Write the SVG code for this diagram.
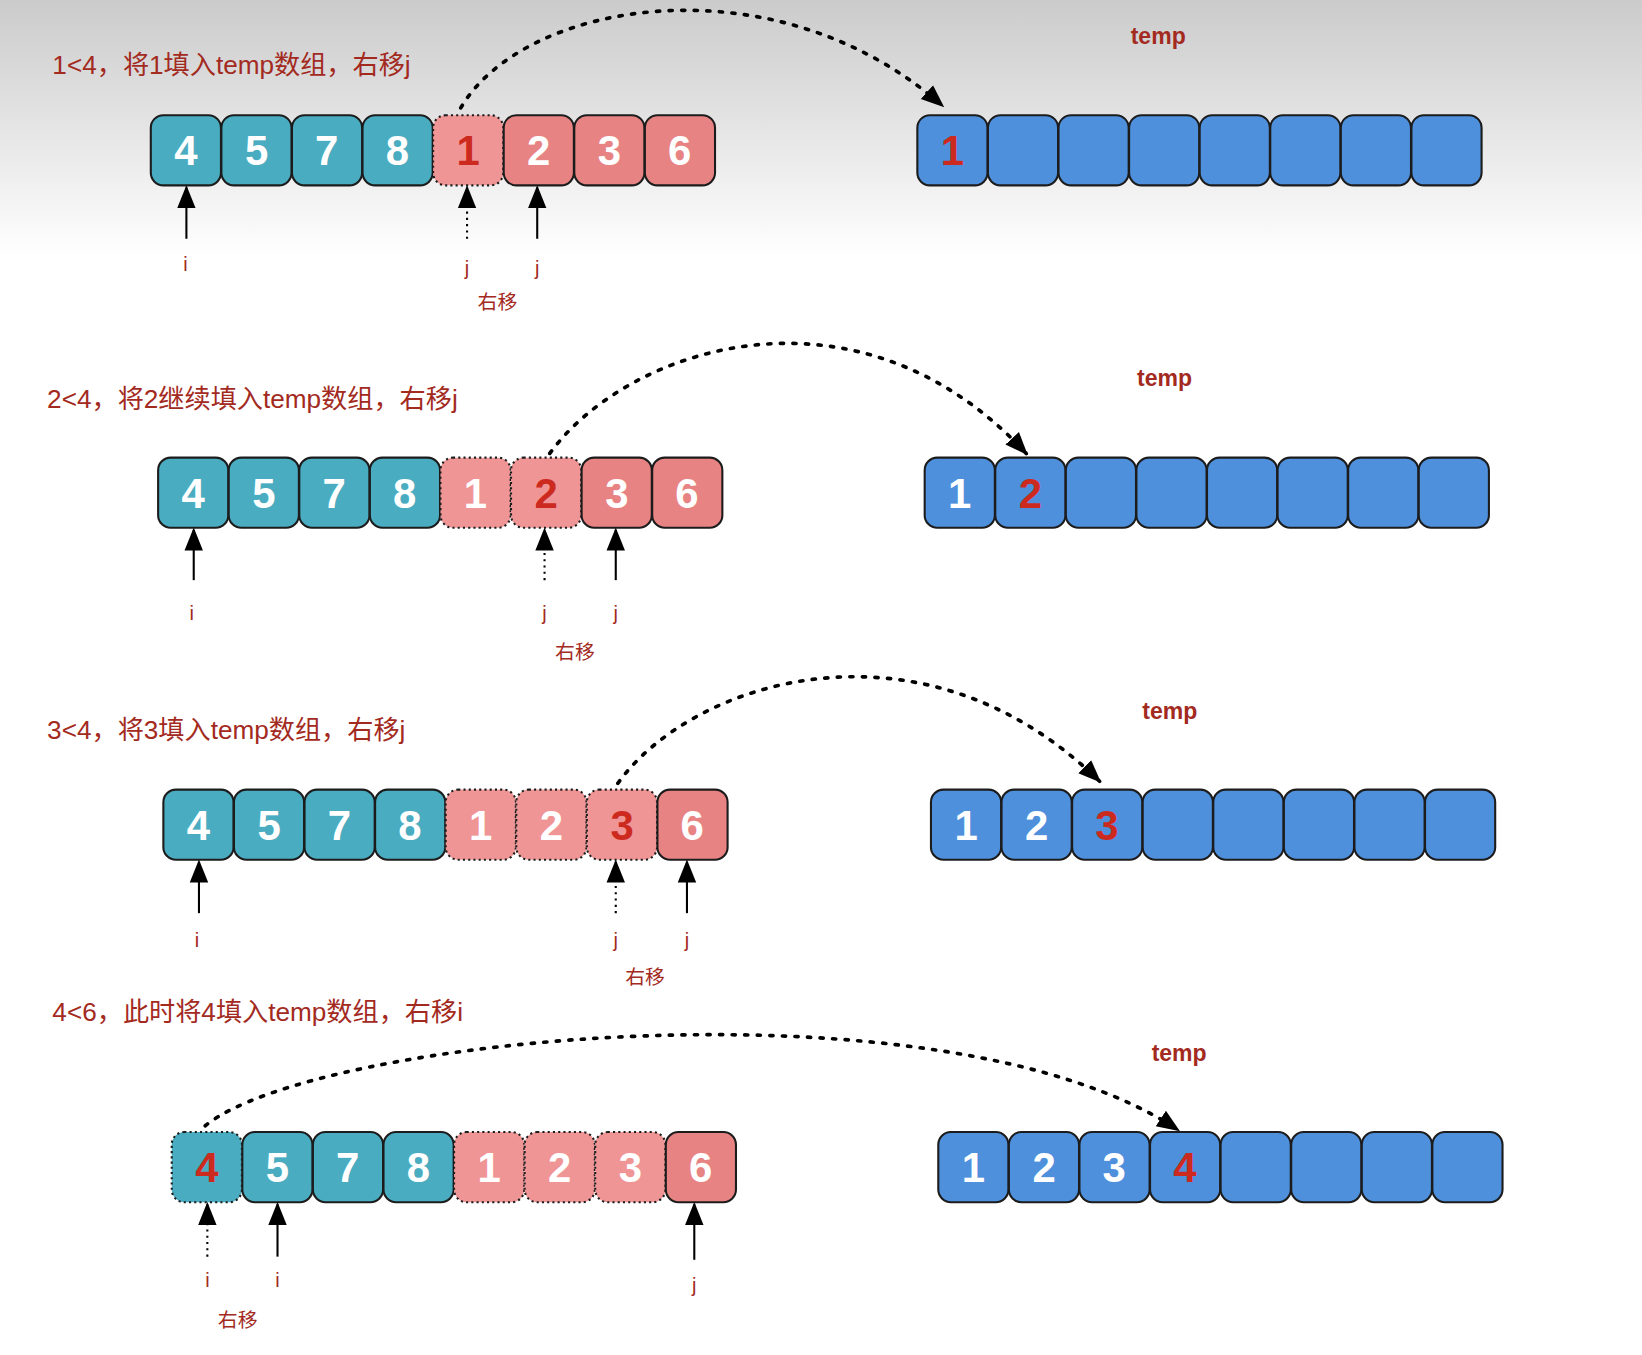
<svg xmlns="http://www.w3.org/2000/svg" width="1642" height="1355" viewBox="0 0 1642 1355">
<defs>
<linearGradient id="bg" x1="0" y1="0" x2="0" y2="1">
<stop offset="0" stop-color="#cbcbcb"/><stop offset="0.19" stop-color="#ffffff"/><stop offset="1" stop-color="#ffffff"/>
</linearGradient>
<marker id="ah" viewBox="0 0 10 10" refX="9" refY="5" markerWidth="7" markerHeight="7" orient="auto" markerUnits="userSpaceOnUse">
<path d="M0,0 L10,5 L0,10 z" fill="#000"/></marker>
<marker id="ah2" viewBox="0 0 10 10" refX="9" refY="5" markerWidth="22" markerHeight="22" orient="auto" markerUnits="userSpaceOnUse">
<path d="M0,1 L10,5 L0,9 z" fill="#000"/></marker>
</defs>
<style>
.c{stroke:#1c1c1c;stroke-width:2}
.t{fill:#4aacc0}.p{fill:#e88383}.pl{fill:#f09595}.b{fill:#4f90dd}
.d{stroke-dasharray:2 3}
.n{font-family:"Liberation Sans",Arial,sans-serif;font-weight:bold;font-size:40px;text-anchor:middle;fill:#fff}
.r{fill:#cc2a1e}
.lab{font-family:"Liberation Sans","Noto Sans CJK SC",sans-serif;font-size:25px;fill:#a32a1e}
.sm{font-family:"Liberation Sans","Noto Sans CJK SC",sans-serif;font-size:19px;fill:#a32a1e;text-anchor:middle}
.tp{font-family:"Liberation Sans",sans-serif;font-weight:bold;font-size:22px;fill:#a32a1e;text-anchor:middle}
.ar{stroke:#000;stroke-width:2;fill:none;marker-end:url(#ah2)}
.ard{stroke:#000;stroke-width:2;fill:none;stroke-dasharray:2 4;marker-end:url(#ah2)}
.cv{stroke:#000;stroke-width:3.5;fill:none;stroke-dasharray:3 9;stroke-linecap:round;marker-end:url(#ah2)}
</style>
<rect width="1642" height="1355" fill="url(#bg)"/>
<g transform="scale(1.0472)">
<!-- Row 1 -->
<g id="row1">
<text class="lab" x="50" y="71">1&lt;4，将1填入temp数组，右移j</text>
<g transform="translate(144,110)">
<rect class="c t" x="0" y="0" width="67" height="67" rx="12"/><text class="n" x="33.5" y="48">4</text>
<rect class="c t" x="67.4" y="0" width="67" height="67" rx="12"/><text class="n" x="101" y="48">5</text>
<rect class="c t" x="134.8" y="0" width="67" height="67" rx="12"/><text class="n" x="168" y="48">7</text>
<rect class="c t" x="202.2" y="0" width="67" height="67" rx="12"/><text class="n" x="235.5" y="48">8</text>
<rect class="c pl d" x="269.6" y="0" width="67" height="67" rx="12"/><text class="n r" x="303" y="48">1</text>
<rect class="c p" x="337" y="0" width="67" height="67" rx="12"/><text class="n" x="370.5" y="48">2</text>
<rect class="c p" x="404.4" y="0" width="67" height="67" rx="12"/><text class="n" x="438" y="48">3</text>
<rect class="c p" x="471.8" y="0" width="67" height="67" rx="12"/><text class="n" x="505" y="48">6</text>
</g>
<text class="tp" x="1106" y="42">temp</text>
<g transform="translate(876,110)">
<rect class="c b" x="0" y="0" width="67" height="67" rx="12"/><text class="n r" x="33.5" y="48">1</text>
<rect class="c b" x="67.4" y="0" width="67" height="67" rx="12"/>
<rect class="c b" x="134.8" y="0" width="67" height="67" rx="12"/>
<rect class="c b" x="202.2" y="0" width="67" height="67" rx="12"/>
<rect class="c b" x="269.6" y="0" width="67" height="67" rx="12"/>
<rect class="c b" x="337" y="0" width="67" height="67" rx="12"/>
<rect class="c b" x="404.4" y="0" width="67" height="67" rx="12"/>
<rect class="c b" x="471.8" y="0" width="67" height="67" rx="12"/>
</g>
<text class="sm" x="177" y="259">i</text><text class="sm" x="446" y="263">j</text><text class="sm" x="513" y="263">j</text>
<text class="sm" x="475" y="295">右移</text>
</g>
<!-- Row 2 -->
<g id="row2">
<text class="lab" x="45" y="390">2&lt;4，将2继续填入temp数组，右移j</text>
<g transform="translate(151,437)">
<rect class="c t" x="0" y="0" width="67" height="67" rx="12"/><text class="n" x="33.5" y="48">4</text>
<rect class="c t" x="67.4" y="0" width="67" height="67" rx="12"/><text class="n" x="101" y="48">5</text>
<rect class="c t" x="134.8" y="0" width="67" height="67" rx="12"/><text class="n" x="168" y="48">7</text>
<rect class="c t" x="202.2" y="0" width="67" height="67" rx="12"/><text class="n" x="235.5" y="48">8</text>
<rect class="c pl d" x="269.6" y="0" width="67" height="67" rx="12"/><text class="n" x="303" y="48">1</text>
<rect class="c pl d" x="337" y="0" width="67" height="67" rx="12"/><text class="n r" x="370.5" y="48">2</text>
<rect class="c p" x="404.4" y="0" width="67" height="67" rx="12"/><text class="n" x="438" y="48">3</text>
<rect class="c p" x="471.8" y="0" width="67" height="67" rx="12"/><text class="n" x="505" y="48">6</text>
</g>
<text class="tp" x="1112" y="369">temp</text>
<g transform="translate(883,437)">
<rect class="c b" x="0" y="0" width="67" height="67" rx="12"/><text class="n" x="33.5" y="48">1</text>
<rect class="c b" x="67.4" y="0" width="67" height="67" rx="12"/><text class="n r" x="101" y="48">2</text>
<rect class="c b" x="134.8" y="0" width="67" height="67" rx="12"/>
<rect class="c b" x="202.2" y="0" width="67" height="67" rx="12"/>
<rect class="c b" x="269.6" y="0" width="67" height="67" rx="12"/>
<rect class="c b" x="337" y="0" width="67" height="67" rx="12"/>
<rect class="c b" x="404.4" y="0" width="67" height="67" rx="12"/>
<rect class="c b" x="471.8" y="0" width="67" height="67" rx="12"/>
</g>
<text class="sm" x="183" y="592">i</text><text class="sm" x="520" y="592">j</text><text class="sm" x="588" y="592">j</text>
<text class="sm" x="549" y="629">右移</text>
</g>
<!-- Row 3 -->
<g id="row3">
<text class="lab" x="45" y="706">3&lt;4，将3填入temp数组，右移j</text>
<g transform="translate(156,754)">
<rect class="c t" x="0" y="0" width="67" height="67" rx="12"/><text class="n" x="33.5" y="48">4</text>
<rect class="c t" x="67.4" y="0" width="67" height="67" rx="12"/><text class="n" x="101" y="48">5</text>
<rect class="c t" x="134.8" y="0" width="67" height="67" rx="12"/><text class="n" x="168" y="48">7</text>
<rect class="c t" x="202.2" y="0" width="67" height="67" rx="12"/><text class="n" x="235.5" y="48">8</text>
<rect class="c pl d" x="269.6" y="0" width="67" height="67" rx="12"/><text class="n" x="303" y="48">1</text>
<rect class="c pl d" x="337" y="0" width="67" height="67" rx="12"/><text class="n" x="370.5" y="48">2</text>
<rect class="c pl d" x="404.4" y="0" width="67" height="67" rx="12"/><text class="n r" x="438" y="48">3</text>
<rect class="c p" x="471.8" y="0" width="67" height="67" rx="12"/><text class="n" x="505" y="48">6</text>
</g>
<text class="tp" x="1117" y="687">temp</text>
<g transform="translate(889,754)">
<rect class="c b" x="0" y="0" width="67" height="67" rx="12"/><text class="n" x="33.5" y="48">1</text>
<rect class="c b" x="67.4" y="0" width="67" height="67" rx="12"/><text class="n" x="101" y="48">2</text>
<rect class="c b" x="134.8" y="0" width="67" height="67" rx="12"/><text class="n r" x="168" y="48">3</text>
<rect class="c b" x="202.2" y="0" width="67" height="67" rx="12"/>
<rect class="c b" x="269.6" y="0" width="67" height="67" rx="12"/>
<rect class="c b" x="337" y="0" width="67" height="67" rx="12"/>
<rect class="c b" x="404.4" y="0" width="67" height="67" rx="12"/>
<rect class="c b" x="471.8" y="0" width="67" height="67" rx="12"/>
</g>
<text class="sm" x="188" y="904">i</text><text class="sm" x="588" y="904">j</text><text class="sm" x="656" y="904">j</text>
<text class="sm" x="616" y="940">右移</text>
</g>
<!-- Row 4 -->
<g id="row4">
<text class="lab" x="50" y="975">4&lt;6，此时将4填入temp数组，右移i</text>
<g transform="translate(164,1081)">
<rect class="c t d" x="0" y="0" width="67" height="67" rx="12"/><text class="n r" x="33.5" y="48">4</text>
<rect class="c t" x="67.4" y="0" width="67" height="67" rx="12"/><text class="n" x="101" y="48">5</text>
<rect class="c t" x="134.8" y="0" width="67" height="67" rx="12"/><text class="n" x="168" y="48">7</text>
<rect class="c t" x="202.2" y="0" width="67" height="67" rx="12"/><text class="n" x="235.5" y="48">8</text>
<rect class="c pl d" x="269.6" y="0" width="67" height="67" rx="12"/><text class="n" x="303" y="48">1</text>
<rect class="c pl d" x="337" y="0" width="67" height="67" rx="12"/><text class="n" x="370.5" y="48">2</text>
<rect class="c pl d" x="404.4" y="0" width="67" height="67" rx="12"/><text class="n" x="438" y="48">3</text>
<rect class="c p" x="471.8" y="0" width="67" height="67" rx="12"/><text class="n" x="505" y="48">6</text>
</g>
<text class="tp" x="1126" y="1013">temp</text>
<g transform="translate(896,1081)">
<rect class="c b" x="0" y="0" width="67" height="67" rx="12"/><text class="n" x="33.5" y="48">1</text>
<rect class="c b" x="67.4" y="0" width="67" height="67" rx="12"/><text class="n" x="101" y="48">2</text>
<rect class="c b" x="134.8" y="0" width="67" height="67" rx="12"/><text class="n" x="168" y="48">3</text>
<rect class="c b" x="202.2" y="0" width="67" height="67" rx="12"/><text class="n r" x="235.5" y="48">4</text>
<rect class="c b" x="269.6" y="0" width="67" height="67" rx="12"/>
<rect class="c b" x="337" y="0" width="67" height="67" rx="12"/>
<rect class="c b" x="404.4" y="0" width="67" height="67" rx="12"/>
<rect class="c b" x="471.8" y="0" width="67" height="67" rx="12"/>
</g>
<text class="sm" x="198" y="1229">i</text><text class="sm" x="265" y="1229">i</text><text class="sm" x="663" y="1234">j</text>
<text class="sm" x="227" y="1267">右移</text>
</g>
<!-- Connectors -->
<g id="connectors">
<path class="ar" d="M178,228 V179"/><path class="ard" d="M446,228 V179"/><path class="ar" d="M513,228 V179"/>
<path class="cv" d="M440,103 C500,0 740,-40 900,101"/>
<path class="ar" d="M185,554 V506"/><path class="ard" d="M520,554 V506"/><path class="ar" d="M588,554 V506"/>
<path class="cv" d="M525,433 C600,330 820,260 980,433"/>
<path class="ar" d="M190,872 V823"/><path class="ard" d="M588,872 V823"/><path class="ar" d="M656,872 V823"/>
<path class="cv" d="M590,748 C660,650 880,580 1050,746"/>
<path class="ard" d="M198,1200 V1150"/><path class="ar" d="M265,1200 V1150"/><path class="ar" d="M663,1203 V1150"/>
<path class="cv" d="M196,1075 C300,990 900,930 1125,1079"/>
</g>
</g>
</svg>
